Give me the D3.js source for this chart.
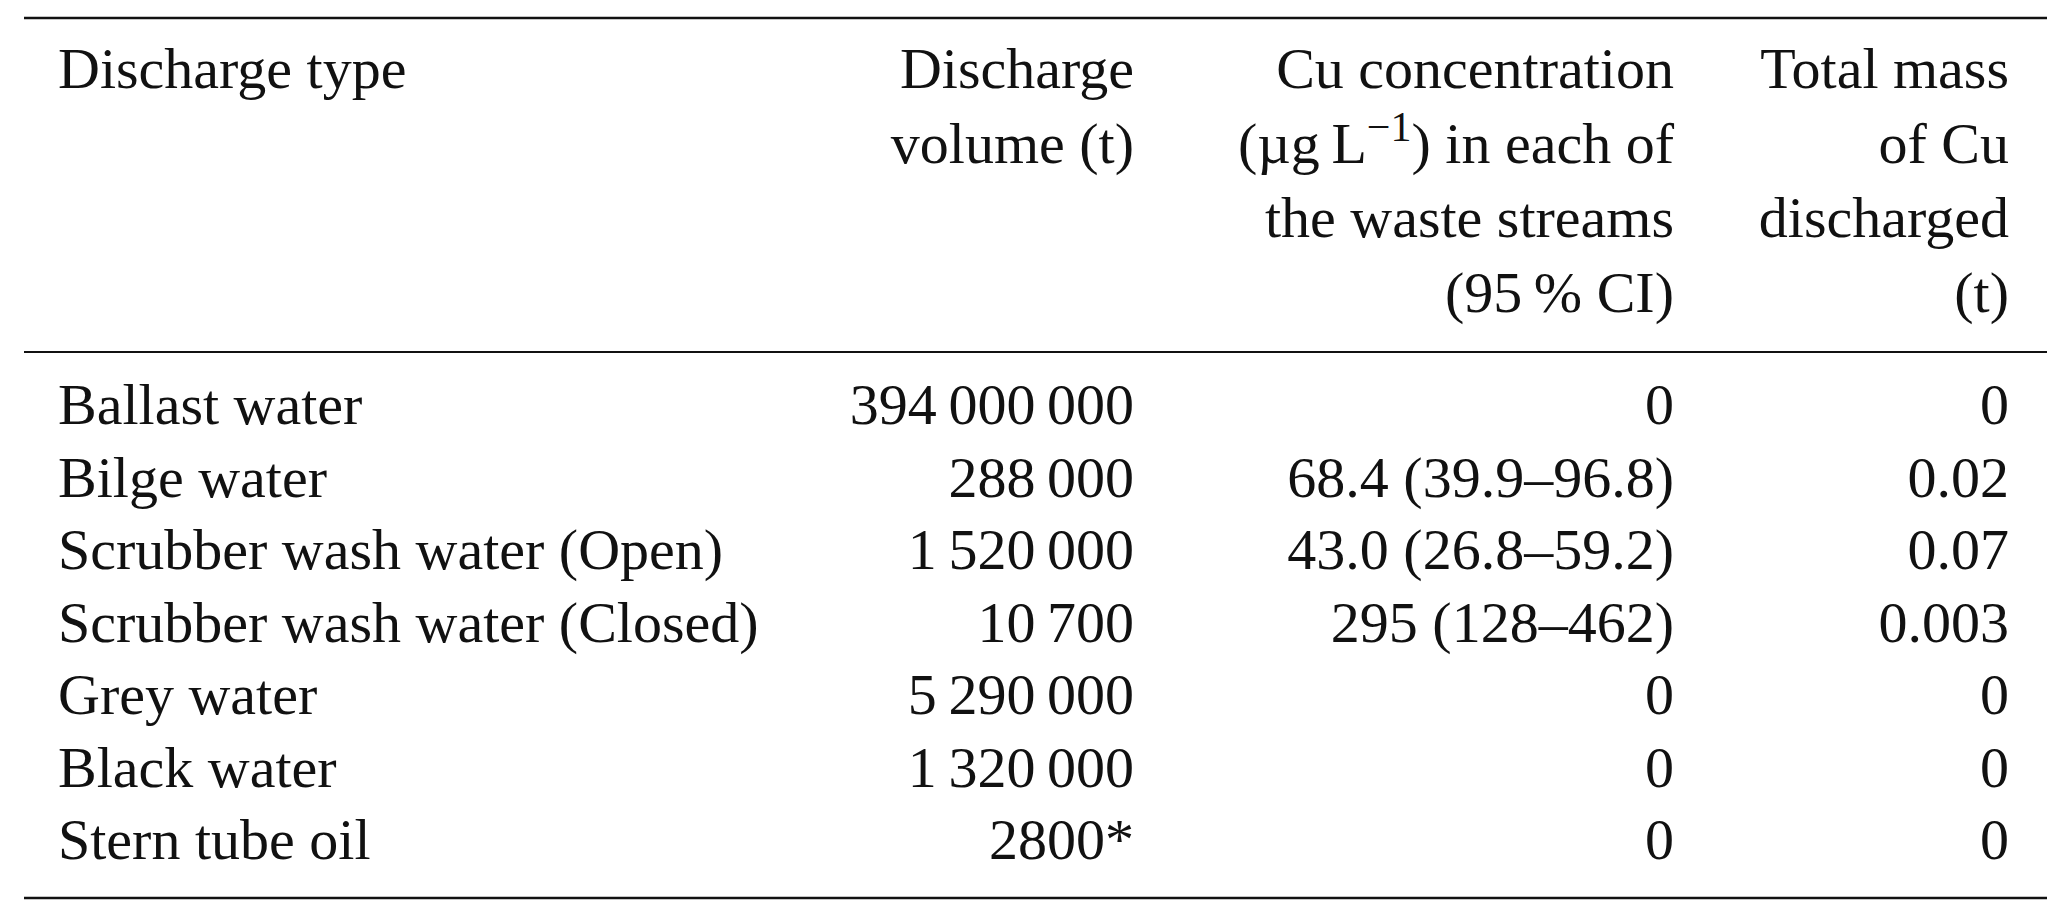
<!DOCTYPE html>
<html>
<head>
<meta charset="utf-8">
<script src="https://cdn.jsdelivr.net/npm/d3@7"></script>
<style>
  body { margin: 0; background: #fff; }
  text { font-family: "Liberation Serif", "DejaVu Serif", serif; font-size: 58px; fill: #111; }
</style>
</head>
<body>
<svg id="chart"></svg>
<script>
const W = 2067, H = 917;

// table data
const types = ["Ballast water", "Bilge water", "Scrubber wash water (Open)",
  "Scrubber wash water (Closed)", "Grey water", "Black water", "Stern tube oil"];
const volumes = ["394\u2009000\u2009000", "288\u2009000", "1\u2009520\u2009000", "10\u2009700",
  "5\u2009290\u2009000", "1\u2009320\u2009000", "2800*"];
const concentrations = ["0", "68.4 (39.9\u201396.8)", "43.0 (26.8\u201359.2)", "295 (128\u2013462)", "0", "0", "0"];
const masses = ["0", "0.02", "0.07", "0.003", "0", "0", "0"];

// header lines per column ("SUP" = line with superscript)
const headers = [
  ["Discharge type"],
  ["Discharge", "volume (t)"],
  ["Cu concentration", "SUP", "the waste streams", "(95\u2009% CI)"],
  ["Total mass", "of Cu", "discharged", "(t)"]
];

const svg = d3.select("#chart").attr("width", W).attr("height", H);

// column anchors: first left-aligned, rest right-aligned
const colX = [58, 1134, 1674, 2009];
const anchors = ["start", "end", "end", "end"];

const headY = d3.scalePoint().domain(d3.range(4)).range([88, 312]);
const rowY = d3.scalePoint().domain(d3.range(types.length)).range([424, 859]);

// rules
svg.selectAll("line.rule")
  .data([{ y: 18, w: 2.5 }, { y: 352, w: 2 }, { y: 898, w: 2.5 }])
  .enter().append("line")
  .attr("x1", 24).attr("x2", 2047)
  .attr("y1", d => d.y).attr("y2", d => d.y)
  .attr("stroke", "#111").attr("stroke-width", d => d.w);

// header
headers.forEach((lines, c) => {
  lines.forEach((ln, i) => {
    const t = svg.append("text")
      .attr("x", colX[c]).attr("y", headY(i))
      .attr("text-anchor", anchors[c]);
    if (ln === "SUP") {
      t.append("tspan").text("(\u00b5g\u2009L");
      t.append("tspan").attr("dy", -22).attr("font-size", 42).text("\u22121");
      t.append("tspan").attr("dy", 22).text(") in each of");
    } else {
      t.text(ln);
    }
  });
});

// body
const cols = [types, volumes, concentrations, masses];
cols.forEach((vals, c) => {
  svg.selectAll("text.c" + c)
    .data(vals)
    .enter().append("text")
    .attr("class", "c" + c)
    .attr("x", colX[c])
    .attr("y", (d, i) => rowY(i))
    .attr("text-anchor", anchors[c])
    .text(d => d);
});
</script>
</body>
</html>
